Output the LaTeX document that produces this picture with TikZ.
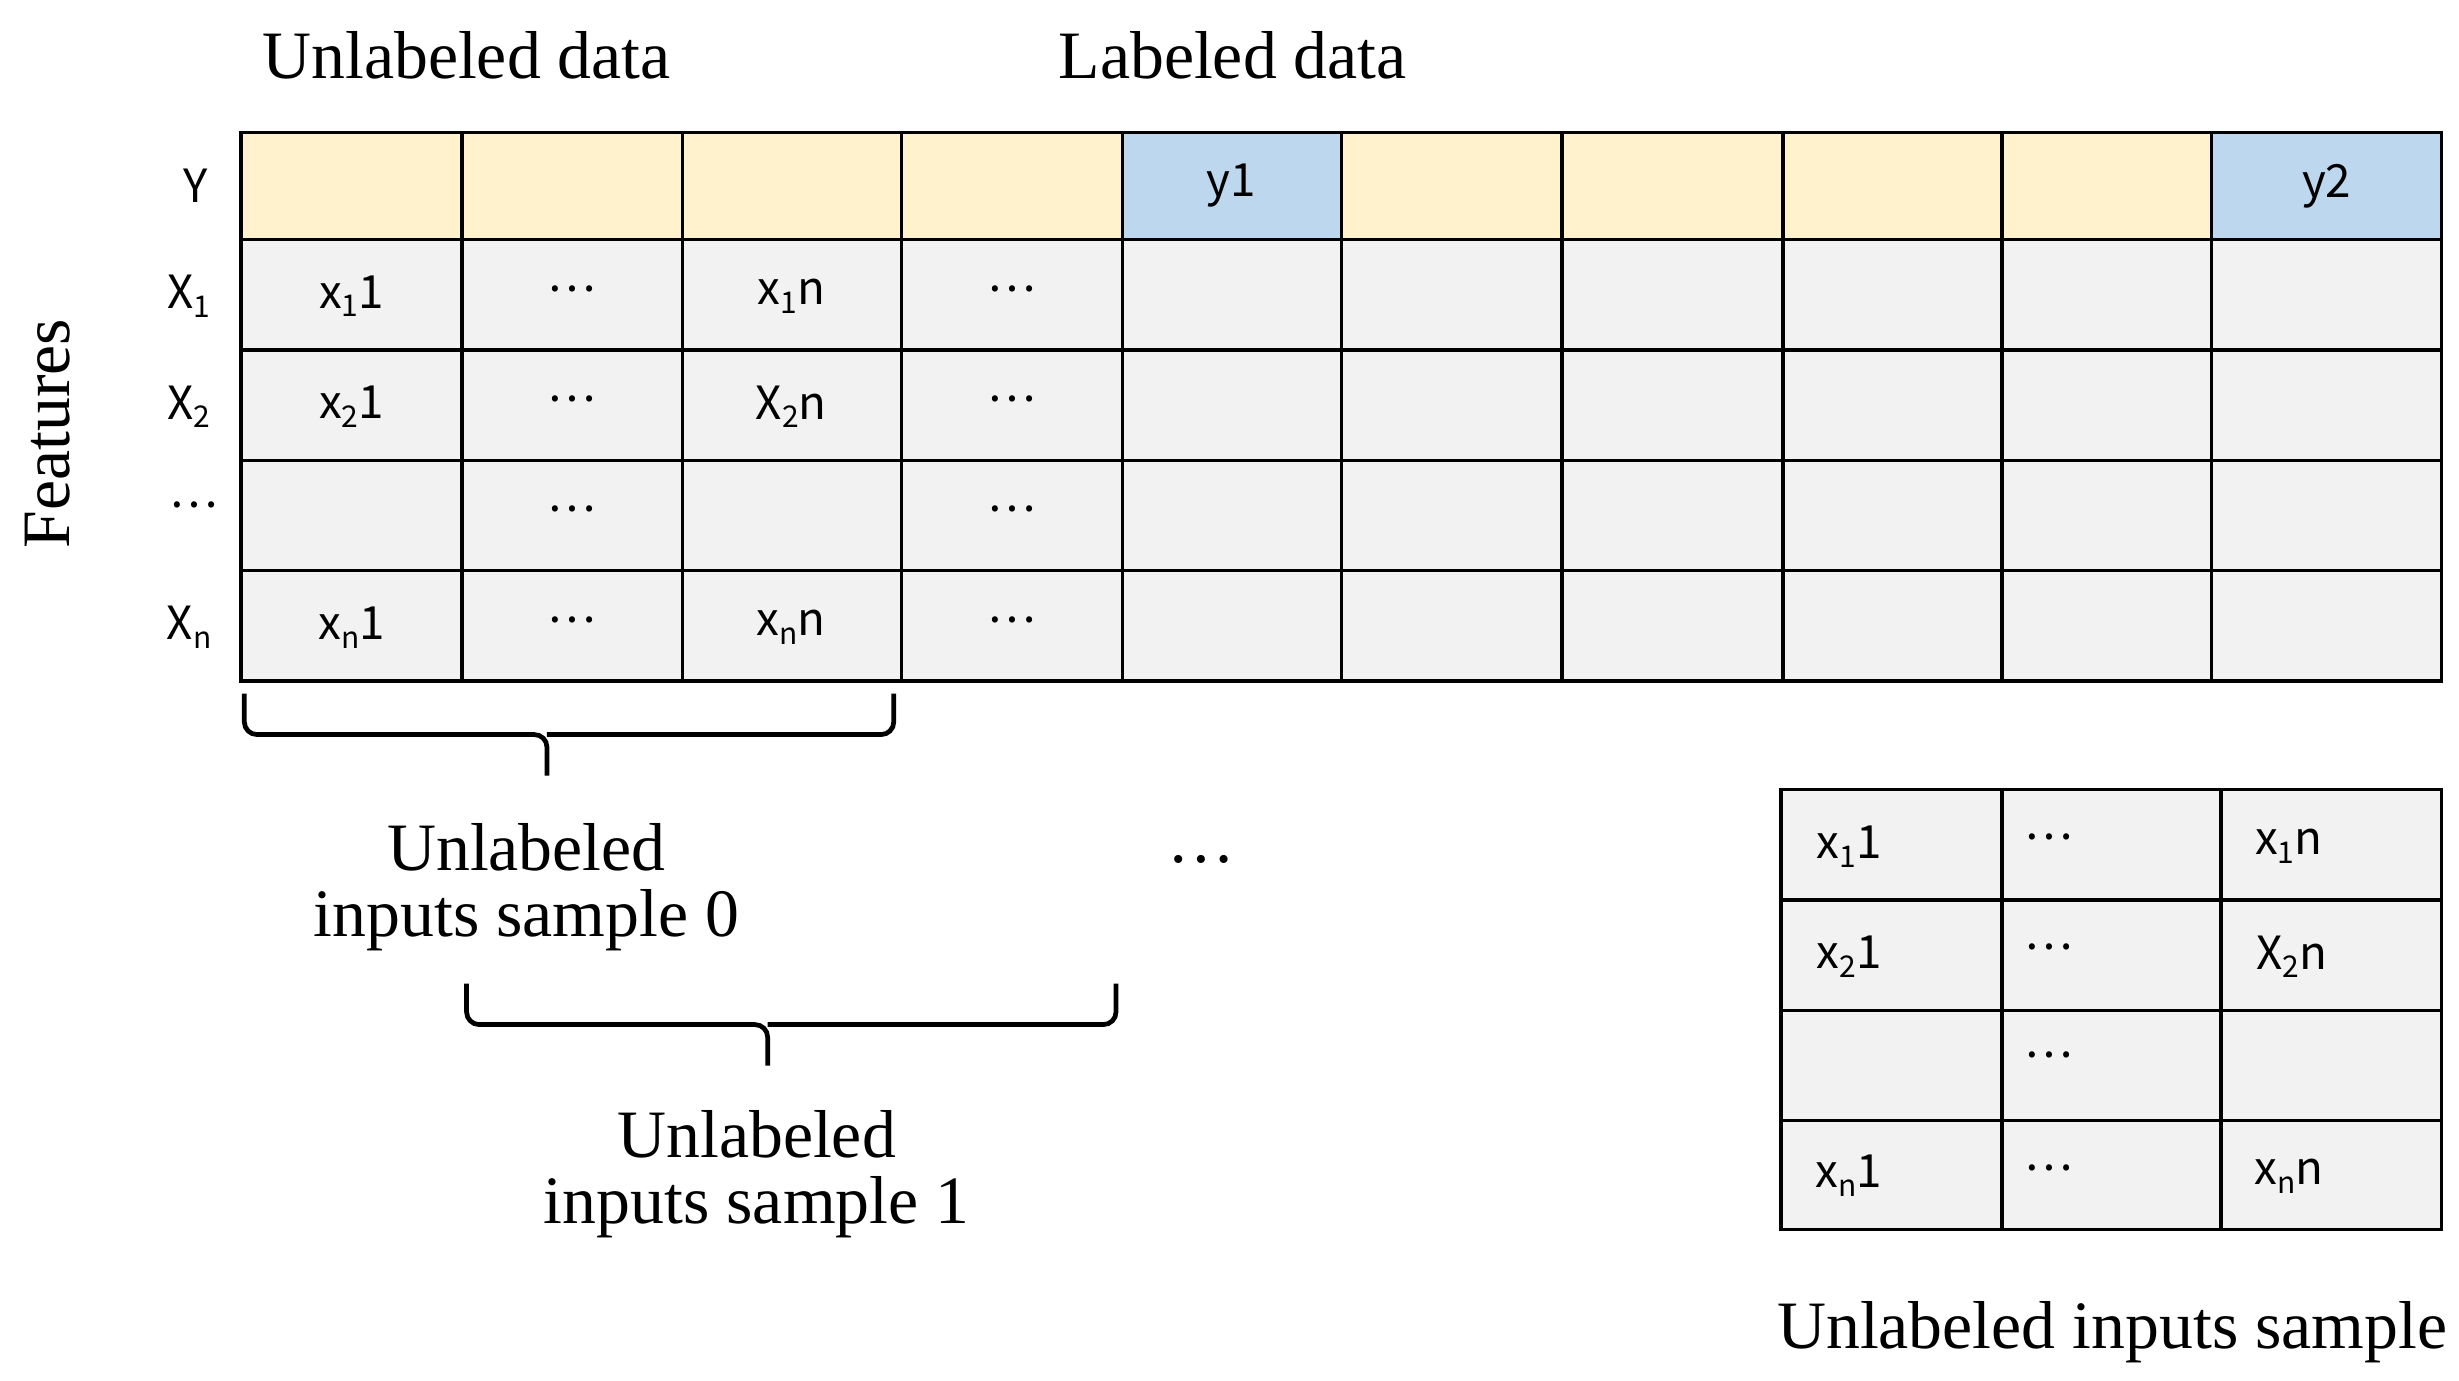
\documentclass[tikz,border=0pt]{standalone}
\usepackage{fontspec}
\setmainfont{Liberation Serif}
\newfontfamily\ysans{Noto Sans CJK SC}
\newcommand{\mysub}[1]{\raisebox{-0.35ex}{\fontsize{19pt}{20pt}\selectfont #1}}
\definecolor{cy}{HTML}{FFF2CC}
\definecolor{cb}{HTML}{BDD7EE}
\definecolor{cg}{HTML}{F2F2F2}
\tikzset{
  cellY/.style={draw=black,line width=2.2pt,fill=cy},
  cellB/.style={draw=black,line width=2.2pt,fill=cb},
  cellG/.style={draw=black,line width=2.2pt,fill=cg},
  ctext/.style={font=\ysans\fontsize{29pt}{32pt}\selectfont,inner sep=0pt,anchor=center},
  stext/.style={font=\fontsize{43pt}{46pt}\selectfont,align=center,inner sep=0pt},
  brc/.style={line width=3pt,rounded corners=8pt}
}
\begin{document}
\begin{tikzpicture}[x=1pt,y=-1pt]
\useasboundingbox (0,0) rectangle (1560,876);
\fill[white] (0,0) rectangle (1560,876);
\foreach \a/\b [count=\i] in {153/293,293/433,433/572,572/712,712/851,851/991,991/1131,1131/1270,1270/1403,1403/1549}{
  \ifnum\i=5 \path[cellB] (\a,84) rectangle (\b,152);
  \else\ifnum\i=10 \path[cellB] (\a,84) rectangle (\b,152);
  \else \path[cellY] (\a,84) rectangle (\b,152);\fi\fi
  \foreach \t/\u in {152/222,222/292,292/362,362/432}{\path[cellG] (\a,\t) rectangle (\b,\u);}
}
\node[ctext] (rY) at (124,118) {Y};
\node[ctext] (r1) at (120,188) {X\mysub{1}};
\node[ctext] (r2) at (120,258) {X\mysub{2}};
\node[ctext] (r3) at (123,320) {⋯};
\node[ctext] (rn) at (120,398) {X\mysub{n}};
\node[ctext] (y1) at (781,118) {y1};
\node[ctext] (y2) at (1476,118) {y2};
\node[ctext] (a11) at (223,188) {x\mysub{1}1};
\node[ctext] (a13) at (502,188) {x\mysub{1}n};
\node[ctext] (a21) at (223,258) {x\mysub{2}1};
\node[ctext] (a23) at (502,258) {X\mysub{2}n};
\node[ctext] (an1) at (223,398) {x\mysub{n}1};
\node[ctext] (an3) at (502,398) {x\mysub{n}n};
\foreach \yy [count=\k] in {183,253,323,393}{
  \node[ctext] (d2\k) at (363,\yy) {⋯};
  \node[ctext] (d4\k) at (642,\yy) {⋯};
}
\node[stext] (ud) at (296,35) {Unlabeled data};
\node[stext] (ld) at (782,35) {Labeled data};
\node[stext,rotate=90] (ft) at (30,275) {Features};
\draw[brc] (155,440) -- (155,466) -- (347,466) -- (347,492);
\draw[brc] (567,440) -- (567,466) -- (347,466);
\node[stext] (s0) at (334,563) {Unlabeled\\[-4pt]inputs sample 0};
\node[stext] (dd) at (762,545) {\dots};
\draw[brc] (296,624) -- (296,650) -- (487,650) -- (487,676);
\draw[brc] (708,624) -- (708,650) -- (487,650);
\node[stext] (s1) at (480,745) {Unlabeled\\[-4pt]inputs sample 1};
\foreach \a/\b in {1130/1270,1270/1409,1409/1549}{
  \foreach \t/\u in {501/571,571/641,641/711,711/780}{\path[cellG] (\a,\t) rectangle (\b,\u);}
}
\node[ctext] (b11) at (1173,537) {x\mysub{1}1};
\node[ctext] (b13) at (1452,537) {x\mysub{1}n};
\node[ctext] (b21) at (1173,607) {x\mysub{2}1};
\node[ctext] (b23) at (1454,607) {X\mysub{2}n};
\node[ctext] (bn1) at (1173,746) {x\mysub{n}1};
\node[ctext] (bn3) at (1452,746) {x\mysub{n}n};
\foreach \yy [count=\k] in {531,601,669,741}{
  \node[ctext] (e\k) at (1300,\yy) {⋯};
}
\node[stext] (su) at (1340,845) {Unlabeled inputs sample};
\end{tikzpicture}
\end{document}
